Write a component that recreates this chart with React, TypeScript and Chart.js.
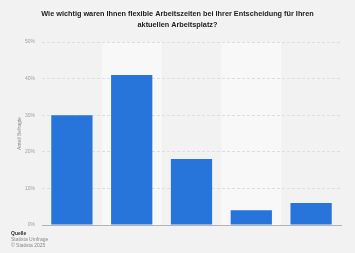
import React, { useEffect, useRef } from "react";
import { Chart, registerables } from "chart.js";

Chart.register(...registerables);

const categories: string[] = ["Sehr wichtig", "Eher wichtig", "Teils/teils", "Eher unwichtig", "Gar nicht wichtig"];
const shares: number[] = [30, 41, 18, 4, 6];
const yTicks: number[] = [0, 10, 20, 30, 40, 50];
const titleLines: string[] = [
  "Wie wichtig waren Ihnen flexible Arbeitszeiten bei Ihrer Entscheidung für Ihren",
  "aktuellen Arbeitsplatz?",
];
const yAxisTitle = "Anteil Befragte";
const footerLines: string[] = ["Quelle", "Statista Umfrage", "© Statista 2025"];

const FONT = "'Liberation Sans', Arial, sans-serif";

const decor = {
  id: "decor",
  beforeDraw(chart: any) {
    const { ctx, width, height, chartArea } = chart;
    ctx.save();
    ctx.fillStyle = "#f2f2f2";
    ctx.fillRect(0, 0, width, height);
    ctx.restore();
    const x = chart.scales.x;
    const n = categories.length;
    const w = (chartArea.right - chartArea.left) / n;
    ctx.save();
    ctx.fillStyle = "#f8f8f8";
    for (let i = 1; i < n; i += 2) {
      const cx = x.getPixelForValue(i);
      ctx.fillRect(cx - w / 2, chartArea.top, w, chartArea.bottom - chartArea.top);
    }
    ctx.restore();
  },
  afterDraw(chart: any) {
    const { ctx, width, chartArea } = chart;
    ctx.save();
    ctx.fillStyle = "#222";
    ctx.font = `bold 7.3px ${FONT}`;
    ctx.textAlign = "center";
    ctx.textBaseline = "middle";
    titleLines.forEach((t, i) => ctx.fillText(t, width / 2, 14 + i * 11));

    ctx.translate(20, (chartArea.top + chartArea.bottom) / 2);
    ctx.rotate(-Math.PI / 2);
    ctx.fillStyle = "#8a8a8a";
    ctx.font = `5px ${FONT}`;
    ctx.fillText(yAxisTitle, 0, 0);
    ctx.restore();

    ctx.save();
    ctx.textAlign = "left";
    ctx.textBaseline = "middle";
    footerLines.forEach((t, i) => {
      ctx.fillStyle = i === 0 ? "#333" : "#8a8a8a";
      ctx.font = `${i === 0 ? "bold " : ""}5px ${FONT}`;
      ctx.fillText(t, 11, 234 + i * 6);
    });
    ctx.restore();
  },
};

export default function App() {
  const ref = useRef<HTMLCanvasElement | null>(null);
  useEffect(() => {
    if (!ref.current) return;
    const chart = new Chart(ref.current, {
      type: "bar",
      data: {
        labels: categories,
        datasets: [
          {
            data: shares,
            backgroundColor: "#2775db",
            borderWidth: 0,
            barPercentage: 0.69,
            categoryPercentage: 1,
          },
        ],
      },
      options: {
        animation: false,
        responsive: false,
        devicePixelRatio: 1,
        layout: { padding: { top: 42, bottom: 28, right: 14, left: 0 } },
        plugins: { legend: { display: false }, tooltip: { enabled: false }, title: { display: false } },
        scales: {
          x: {
            grid: { display: false },
            ticks: { display: false },
            border: { display: true, color: "#b3b3b3", width: 1 },
            afterFit: (s: any) => { s.height = 0; },
          },
          y: {
            min: 0,
            max: 50,
            afterBuildTicks: (s: any) => { s.ticks = yTicks.map((v) => ({ value: v })); },
            ticks: {
              callback: (v: any) => `${v}%`,
              color: "#a0a0a0",
              font: { size: 5, family: FONT },
              padding: 7,
            },
            grid: { color: "#dedede", drawTicks: false, lineWidth: 1 },
            border: { display: false, dash: [3, 2] },
            afterFit: (s: any) => { s.width = 42; },
          },
        },
      },
      plugins: [decor],
    });
    return () => chart.destroy();
  }, []);
  return (
    <div style={{ position: "fixed", left: 0, top: 0, width: 355, height: 253, background: "#f2f2f2" }}>
      <canvas ref={ref} width={355} height={253} style={{ display: "block", width: 355, height: 253 }} />
    </div>
  );
}
